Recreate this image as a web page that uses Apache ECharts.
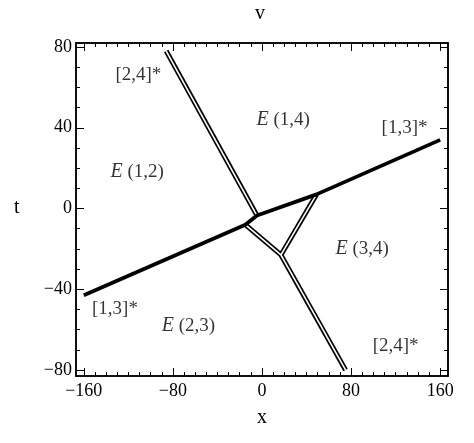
<!DOCTYPE html>
<html>
<head>
<meta charset="utf-8">
<script src="https://cdn.jsdelivr.net/npm/echarts@6/dist/echarts.min.js"></script>
<style>html,body{margin:0;padding:0;background:#fff}#container{width:474px;height:443px}</style>
</head>
<body>
<div id="container"></div>
<script>
var xMajor = [-160, -80, 0, 80, 160];
var yMajor = [-80, -40, 0, 40, 80];
var xMinor = [];
for (var i = -160; i <= 160; i += 10) xMinor.push(i);
var yMinor = [];
for (var j = -80; j <= 80; j += 10) yMinor.push(j);

// thick solid line [1,3]
var line13 = [[-160, -43], [-15, -8], [-4.5, -3.5], [49, 7], [160, 34]];
// double lines
var line24top = [[-86, 78], [-4.5, -3.5]];
var lineLeftTri = [[-15, -8], [17, -23]];
var lineRightTri = [[17, -23], [49, 7]];
var line24bot = [[17, -23], [75, -80]];

var regionLabels = [
    {pos: [19, 44], txt: '{e|E} (1,4)'},
    {pos: [-112, 18], txt: '{e|E} (1,2)'},
    {pos: [90, -20], txt: '{e|E} (3,4)'},
    {pos: [-66, -58], txt: '{e|E} (2,3)'},
    {pos: [-111, 66], txt: '[2,4]*'},
    {pos: [128, 40], txt: '[1,3]*'},
    {pos: [-132, -50], txt: '[1,3]*'},
    {pos: [120, -68], txt: '[2,4]*'}
];

var font = 'Liberation Serif';
function fmt(v) { return v < 0 ? '\u2212' + (-v) : String(v); }

function xAx(pos, ticks, len, labels) {
    return {
        type: 'value', min: -167, max: 167, position: pos, gridIndex: 0,
        axisLine: {show: true, onZero: false, lineStyle: {color: '#000', width: 1.5}},
        splitLine: {show: false},
        axisTick: {show: true, inside: true, length: len, customValues: ticks, lineStyle: {color: '#000'}},
        axisLabel: {show: labels, customValues: ticks, formatter: fmt, color: '#000', fontFamily: font, fontSize: 18, margin: 6}
    };
}
function yAx(pos, ticks, len, labels) {
    return {
        type: 'value', min: -83, max: 82, position: pos, gridIndex: 0,
        axisLine: {show: true, onZero: false, lineStyle: {color: '#000', width: 1.5}},
        splitLine: {show: false},
        axisTick: {show: true, inside: true, length: len, customValues: ticks, lineStyle: {color: '#000'}},
        axisLabel: {show: labels, customValues: ticks, formatter: fmt, color: '#000', fontFamily: font, fontSize: 18, margin: 4}
    };
}

function doubleLine(data) {
    return [
        {type: 'line', data: data, symbol: 'none', lineStyle: {color: '#000', width: 5}, z: 3, silent: true},
        {type: 'line', data: data, symbol: 'none', lineStyle: {color: '#fff', width: 1.6}, z: 4, silent: true}
    ];
}

var series = [
    {type: 'line', data: line13, symbol: 'none', lineStyle: {color: '#000', width: 3.8}, z: 5, silent: true}
];
series = series.concat(doubleLine(line24top), doubleLine(lineLeftTri), doubleLine(lineRightTri), doubleLine(line24bot));
series.push({
    type: 'scatter', symbolSize: 0, z: 6,
    data: regionLabels.map(function (d) { return {value: d.pos, label: {formatter: d.txt}}; }),
    label: {show: true, position: 'inside', color: '#000', fontFamily: font, fontSize: 19,
        rich: {e: {fontStyle: 'italic', fontFamily: font, fontSize: 20, color: '#000'}}}
});

var myChart = echarts.init(document.getElementById('container'));
var option = {
    animation: false,
    grid: {left: 76, right: 26, top: 43, bottom: 67},
    xAxis: [xAx('bottom', xMajor, 8, true), xAx('bottom', xMinor, 4, false), xAx('top', xMajor, 8, false), xAx('top', xMinor, 4, false)],
    yAxis: [yAx('left', yMajor, 8, true), yAx('left', yMinor, 4, false), yAx('right', yMajor, 8, false), yAx('right', yMinor, 4, false)],
    graphic: [
        {type: 'text', left: 255, top: 4, style: {text: 'v', font: '20px "Liberation Serif"', fill: '#000'}},
        {type: 'text', left: 257, top: 408, style: {text: 'x', font: '20px "Liberation Serif"', fill: '#000'}},
        {type: 'text', left: 14, top: 198, style: {text: 't', font: '20px "Liberation Serif"', fill: '#000'}}
    ],
    series: series
};
myChart.setOption(option);
</script>
</body>
</html>
